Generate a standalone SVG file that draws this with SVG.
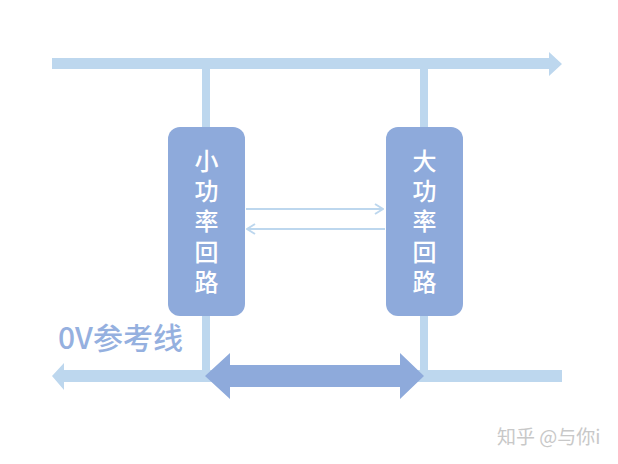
<svg xmlns="http://www.w3.org/2000/svg" width="618" height="464" viewBox="0 0 618 464">
<defs>
<style>
.bar{fill:#bdd7ee}
.box{fill:#8eaadb}
.lbl{font-family:"Noto Sans CJK SC","Noto Sans",sans-serif;font-size:24px;fill:#ffffff;text-anchor:middle;font-weight:500}
.thin{stroke:#bdd7ee;stroke-width:2;fill:none}
.ov{font-family:"Noto Sans CJK SC","Noto Sans",sans-serif;font-size:30px;fill:#95b0df;font-weight:500}
.wm{font-family:"Noto Sans CJK SC","Noto Sans",sans-serif;font-size:19px;fill:#c8c8c8}
</style>
<marker id="chev" viewBox="0 0 10 12" refX="9" refY="6" markerWidth="10" markerHeight="12" markerUnits="userSpaceOnUse" orient="auto">
<path d="M1,1 L9,6 L1,11" fill="none" stroke="#bdd7ee" stroke-width="2"/>
</marker>
</defs>
<rect width="618" height="464" fill="#ffffff"/>
<g id="connectors">
<path class="bar" d="M52,58 L549,58 L549,52 L562,64 L549,76 L549,69 L52,69 Z"/>
<rect class="bar" x="202" y="69" width="8" height="60"/>
<rect class="bar" x="420" y="69" width="8" height="60"/>
<rect class="bar" x="202" y="314" width="8" height="62"/>
<rect class="bar" x="420" y="314" width="8" height="62"/>
<path class="bar" d="M562,370 L64,370 L64,363 L52,376 L64,390 L64,382 L562,382 Z"/>
<path class="box" d="M205,376 L230,353 L230,365 L400,365 L400,353 L424,376 L400,399 L400,387 L230,387 L230,399 Z"/>
<line class="thin" x1="246" y1="209" x2="383" y2="209" marker-end="url(#chev)"/>
<line class="thin" x1="385" y1="229" x2="247" y2="229" marker-end="url(#chev)"/>
</g>
<g id="small-loop">
<rect class="box" x="168" y="127" width="77" height="189" rx="12"/>
<text class="lbl" x="206.5" y="170">小</text>
<text class="lbl" x="206.5" y="200">功</text>
<text class="lbl" x="206.5" y="230">率</text>
<text class="lbl" x="206.5" y="261">回</text>
<text class="lbl" x="206.5" y="291">路</text>
</g>
<g id="large-loop">
<rect class="box" x="386" y="127" width="77" height="189" rx="12"/>
<text class="lbl" x="424.5" y="170">大</text>
<text class="lbl" x="424.5" y="200">功</text>
<text class="lbl" x="424.5" y="230">率</text>
<text class="lbl" x="424.5" y="261">回</text>
<text class="lbl" x="424.5" y="291">路</text>
</g>
<g id="ov-label">
<text class="ov" x="58" y="349">0V参考线</text>
</g>
<g id="watermark">
<text class="wm" x="497" y="444">知乎 @与你i</text>
</g>
</svg>
